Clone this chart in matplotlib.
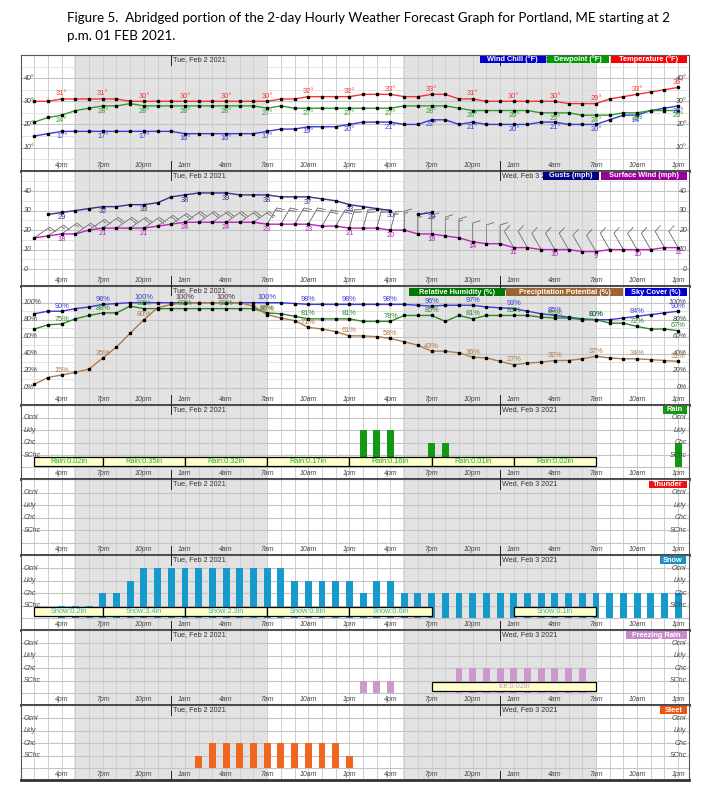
import numpy as np
import matplotlib
matplotlib.use("Agg")
import matplotlib.pyplot as plt
from matplotlib.patches import Rectangle

# ---------------- data ----------------
hours = np.arange(48)          # 0 = 2pm Mon Feb 1 2021 ... 47 = 1pm Wed Feb 3
tick_hours = list(range(2, 48, 3))
tick_labels = ['4pm', '7pm', '10pm', '1am', '4am', '7am', '10am', '1pm',
               '4pm', '7pm', '10pm', '1am', '4am', '7am', '10am', '1pm']
midnights = [10, 34]
day_labels = ['Tue, Feb 2 2021', 'Wed, Feb 3 2021']
night_spans = [(2.9, 17.0), (26.9, 41.0)]

temperature = [30, 30, 31, 31, 31, 31, 31, 30, 30, 30, 30, 30, 30, 30, 30, 30,
               30, 30, 31, 31, 32, 32, 32, 32, 33, 33, 33, 32, 32, 33, 33, 31,
               31, 30, 30, 30, 30, 30, 30, 29, 29, 29, 31, 32, 33, 34, 35, 36]
dewpoint = [21, 23, 24, 26, 27, 28, 28, 29, 28, 28, 28, 28, 28, 28, 28, 28,
            28, 27, 28, 27, 27, 27, 27, 27, 27, 27, 27, 28, 28, 28, 28, 27,
            26, 26, 26, 26, 26, 25, 25, 25, 24, 24, 24, 25, 25, 26, 26, 26]
wind_chill = [15, 16, 17, 17, 17, 17, 17, 17, 17, 17, 17, 16, 16, 16, 16, 16,
              16, 17, 18, 18, 19, 19, 19, 20, 21, 21, 21, 20, 20, 22, 22, 20,
              21, 20, 20, 20, 20, 21, 21, 20, 20, 20, 22, 24, 24, 26, 27, 28]

nan = np.nan
gusts = [nan, 28, 29, 30, 31, 32, 32, 33, 33, 34, 37, 38, 39, 39, 39, 38,
         38, 38, 37, 37, 37, 36, 35, 33, 32, 31, 30, nan, 28, 29, nan, nan,
         nan, nan, nan, nan, nan, nan, nan, nan, nan, nan, nan, nan, nan, nan, nan, nan]
surface_wind = [16, 17, 18, 18, 20, 21, 21, 21, 21, 22, 23, 24, 24, 24, 24, 24,
                24, 23, 23, 23, 23, 22, 22, 21, 21, 21, 20, 20, 18, 18, 17, 16,
                14, 13, 13, 11, 11, 10, 10, 10, 9, 9, 10, 10, 10, 10, 11, 11]
wind_dir = [55] * 17 + [30] * 6 + [15] * 4 + [0] * 8 + [330] * 13   # degrees, from

sky_cover = [87, 90, 90, 93, 95, 98, 99, 100, 100, 100, 100, 100, 100, 100, 100, 100,
             100, 100, 100, 99, 98, 98, 98, 98, 98, 98, 98, 98, 97, 96, 97, 97,
             97, 95, 94, 93, 90, 87, 85, 83, 81, 80, 80, 82, 84, 86, 88, 90]
rel_humidity = [69, 74, 75, 81, 85, 88, 88, 96, 93, 93, 93, 93, 93, 93, 93, 93,
                93, 88, 87, 84, 81, 81, 81, 81, 78, 78, 78, 85, 85, 85, 78, 85,
                81, 85, 85, 85, 85, 83, 82, 82, 80, 80, 76, 76, 72, 69, 69, 67]
precip_potential = [4, 12, 15, 18, 22, 35, 48, 64, 80, 94, 98, 100, 100, 100, 100, 100,
                    96, 86, 82, 79, 71, 69, 66, 61, 61, 60, 58, 54, 50, 43, 43, 41,
                    36, 35, 31, 27, 29, 30, 32, 32, 34, 37, 35, 34, 34, 33, 32, 31]

# precipitation type likelihood: 0 none, 1 SChc, 2 Chc, 3 Lkly, 4 Ocnl
level_names = ['SChc', 'Chc', 'Lkly', 'Ocnl']
rain_level = [0] * 24 + [3, 3, 3, 0, 0, 2, 2] + [0] * 16 + [2]
thunder_level = [0] * 48
snow_level = [0, 0, 1, 1, 1, 2, 2, 3] + [4] * 11 + [3] * 5 + [2, 3, 3] + [2] * 21
freezing_level = [0] * 24 + [1, 1, 1, 0, 0, 0, 0] + [2] * 10 + [0] * 7
sleet_level = [0] * 12 + [1] + [2] * 10 + [1] + [0] * 24

rain_periods = [(0, 5, '0.02'), (5, 11, '0.35'), (11, 17, '0.32'), (17, 23, '0.17'),
                (23, 29, '0.16'), (29, 35, '0.01'), (35, 41, '0.02')]
snow_periods = [(0, 5, '0.2'), (5, 11, '3.4'), (11, 17, '2.3'), (17, 23, '0.8'),
                (23, 29, '0.6'), (35, 41, '0.1')]
ice_periods = [(29, 41, '0.02')]

# ---------------- figure ----------------
W, H = 708, 798
fig = plt.figure(figsize=(W / 100, H / 100), dpi=100)
fig.patch.set_facecolor('white')
FONT = 'Liberation Sans'
XL, XR = 21, 689
XLIM = (-0.97, 47.79)

fig.text(67 / W, 1 - 18.5 / H,
         'Figure 5.  Abridged portion of the 2-day Hourly Weather Forecast Graph for Portland, ME starting at 2',
         fontsize=9.6, family='Lato', va='center', ha='left', color='black')
fig.text(67 / W, 1 - 36 / H, 'p.m. 01 FEB 2021.', fontsize=9.6, family='Lato',
         va='center', ha='left', color='black')

LAB = '#444444'


def make_panel(top, bottom, ylim, major, minor, ylabels, show_wed=True):
    hpx = bottom - top
    ax = fig.add_axes([XL / W, 1 - bottom / H, (XR - XL) / W, hpx / H])
    ax.set_xlim(*XLIM)
    ax.set_ylim(*ylim)
    ax.set_xticks([])
    ax.set_yticks([])
    for s in ['left', 'right', 'top']:
        ax.spines[s].set_color('#555555')
        ax.spines[s].set_linewidth(0.8)
    ax.spines['bottom'].set_color('#333333')
    ax.spines['bottom'].set_linewidth(2.0)
    for a, b in night_spans:
        ax.axvspan(a, b, color='#e2e2e2', lw=0, zorder=0)
    for h in hours:
        ax.axvline(h, color='#cfcfcf', lw=0.7, zorder=0.5)
    for y in minor:
        ax.axhline(y, color='#dedede', lw=0.6, zorder=0.6)
    for y in major:
        ax.axhline(y, color='#c4c4c4', lw=0.8, zorder=0.6)
    bt = ax.get_xaxis_transform()
    for m in midnights:
        ax.plot([m, m], [1 - 9.5 / hpx, 1], color='#222222', lw=0.7, transform=bt, zorder=5)
        ax.plot([m, m], [0.5 / hpx, 9.5 / hpx], color='#222222', lw=0.7, transform=bt, zorder=5)
    ax.text(midnights[0] + 0.15, 1 - 1.2 / hpx, day_labels[0], transform=bt, ha='left', va='top',
            fontsize=5.2, family=FONT, color='#333333', zorder=5)
    if show_wed:
        ax.text(midnights[1] + 0.15, 1 - 1.2 / hpx, day_labels[1], transform=bt, ha='left', va='top',
                fontsize=5.2, family=FONT, color='#333333', zorder=5)
    for h, lab in zip(tick_hours, tick_labels):
        ax.text(h, 5.5 / hpx, lab, transform=bt, ha='center', va='center', fontsize=5,
                family=FONT, style='italic', color=LAB, zorder=5)
    yt = ax.get_yaxis_transform()
    for y, lab in ylabels:
        ax.text(2.5 / (XR - XL), y, lab, transform=yt, ha='left', va='center', fontsize=5,
                family=FONT, style='italic', color=LAB, zorder=5)
        ax.text(1 - 2.5 / (XR - XL), y, lab, transform=yt, ha='right', va='center', fontsize=5,
                family=FONT, style='italic', color=LAB, zorder=5)
    return ax


def legend(entries, ytop, ybot):
    for x0, x1, text, color in entries:
        fig.patches.append(Rectangle((x0 / W, 1 - ybot / H), (x1 - x0) / W, (ybot - ytop) / H,
                                     transform=fig.transFigure, facecolor=color, edgecolor='none',
                                     zorder=10))
        fig.text((x0 + x1) / 2 / W, 1 - (ytop + ybot) / 2 / H, text, ha='center', va='center',
                 fontsize=5.3, family=FONT, weight='bold', color='white', zorder=11)


def series(ax, y, color, fmt, off, va, label_color=None):
    y = np.asarray(y, dtype=float)
    ax.plot(hours, y, color=color, lw=1.0, zorder=3)
    ax.plot(hours, y, 's', color='black', ms=2.0, zorder=4)
    for h in tick_hours:
        if np.isfinite(y[h]):
            ax.annotate(fmt.format(int(y[h])), (h, y[h]), xytext=(0, off), textcoords='offset points',
                        ha='center', va=va, fontsize=5.3, family=FONT,
                        color=label_color or color, zorder=6)


# Panel 1: temperatures
ax1 = make_panel(55, 170.7, (0, 50), [10, 20, 30, 40], [5, 15, 25, 35, 45],
                 [(v, f'{v}°') for v in [10, 20, 30, 40]])
series(ax1, wind_chill, '#3a3ae0', '{}°', -1.2, 'top')
series(ax1, dewpoint, '#2aa02a', '{}°', -1.2, 'top')
series(ax1, temperature, '#ff3030', '{}°', 1.2, 'bottom')
legend([(479.6, 546, 'Wind Chill (°F)', '#0000cc'),
        (547.3, 609.3, 'Dewpoint (°F)', '#009900'),
        (610.7, 686.7, 'Temperature (°F)', '#ff0000')], 55.6, 63.4)

# Panel 2: wind
ax2 = make_panel(170.7, 285.7, (-8.5, 50.4), [0, 10, 20, 30, 40], [5, 15, 25, 35, 45],
                 [(v, f'{v}') for v in [0, 10, 20, 30, 40]])
spd = np.asarray(surface_wind, float) * 0.869
rad = np.deg2rad(np.asarray(wind_dir, float))
u = -spd * np.sin(rad)
v = -spd * np.cos(rad)
ax2.barbs(hours, surface_wind, u, v, length=5.2, color='#8a8a8a', linewidth=0.45, zorder=2)
series(ax2, gusts, '#333399', '{}', -1.2, 'top')
series(ax2, surface_wind, '#c020c0', '{}', -1.2, 'top')
legend([(542.7, 599.3, 'Gusts (mph)', '#000080'),
        (601, 686.7, 'Surface Wind (mph)', '#990099')], 171.6, 179.6)

# Panel 3: humidity / PoP / sky
ax3 = make_panel(285.7, 404.7, (-20, 120), [0, 20, 40, 60, 80, 100], [10, 30, 50, 70, 90],
                 [(v, f'{v}%') for v in [0, 20, 40, 60, 80, 100]])
series(ax3, sky_cover, '#3a3ae0', '{}%', 1.0, 'bottom')
series(ax3, rel_humidity, '#2a8a2a', '{}%', 1.0, 'bottom')
series(ax3, precip_potential, '#b07a4a', '{}%', 1.0, 'bottom', label_color='#b07a4a')
legend([(409.2, 505, 'Relative Humidity (%)', '#007700'),
        (506, 623.4, 'Precipitation Potential (%)', '#996633'),
        (624.7, 686.7, 'Sky Cover (%)', '#0000cc')], 288.4, 296.2)

# Panels 4-8: precipitation type bars
lev_labels = [(i + 1, n) for i, n in enumerate(level_names)]
bar_specs = [
    (404.7, 479.3, rain_level, '#129912', 'Rain', '#129912', rain_periods, 'Rain', '#22aa22', (662.7, 686.7)),
    (479.3, 555.0, thunder_level, '#ee0000', 'Thunder', '#ee1111', [], '', '', (649, 686.7)),
    (555.0, 630.0, snow_level, '#169acb', 'Snow', '#1a8fc4', snow_periods, 'Snow', '#3aaad0', (659.5, 685.7)),
    (630.0, 705.0, freezing_level, '#cc99cc', 'Freezing Rain', '#cc88cc', ice_periods, 'Ice', '#cc99cc', (625.6, 686.7)),
    (705.0, 780.0, sleet_level, '#ee6620', 'Sleet', '#ee5511', [], '', '', (660.4, 686.7)),
]
for top, bot, lev, col, name, lcol, periods, pname, tcol, (lx0, lx1) in bar_specs:
    ax = make_panel(top, bot, (-0.95, 5.05), [0, 1, 2, 3, 4], [], lev_labels)
    lev = np.asarray(lev, float)
    ax.bar(hours, lev, width=0.5, bottom=0, color=col, zorder=3, lw=0)
    for a, b, val in periods:
        ax.add_patch(Rectangle((a, 0.15), b - a, 0.72, facecolor='#ffffcc', edgecolor='black',
                               lw=0.9, zorder=4))
        ax.text((a + b) / 2, 0.51, f'{pname}:{val}in', ha='center', va='center', fontsize=5.3,
                family=FONT, color=tcol, zorder=5)
    legend([(lx0, lx1, name, lcol)], top + 1.3, top + 8.8)

fig.savefig('out.png', dpi=100, facecolor='white')
